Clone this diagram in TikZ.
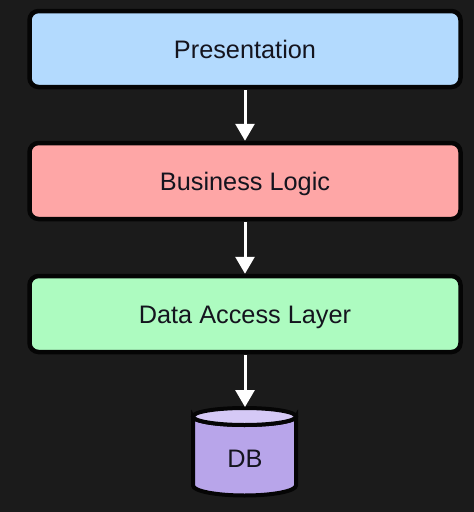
\documentclass[tikz,border=0pt]{standalone}
\usepackage{fontspec}
\setmainfont{Liberation Sans}
\usetikzlibrary{arrows.meta}
\definecolor{bgc}{HTML}{1B1B1B}
\definecolor{edgec}{HTML}{050505}
\definecolor{bluec}{HTML}{B3DAFE}
\definecolor{redc}{HTML}{FEA6A6}
\definecolor{greenc}{HTML}{ADFBC0}
\definecolor{purplec}{HTML}{B8A5EA}
\definecolor{lidc}{HTML}{D5C9F6}
\definecolor{textc}{HTML}{14141E}
\begin{document}
\begin{tikzpicture}[x=1pt,y=-1pt,
  labeltext/.style={text=textc,font=\fontsize{25.3}{28}\selectfont,text height=18pt,text depth=0pt},
  layer/.style={labeltext,draw=edgec,line width=4.5pt,rounded corners=9pt,minimum width=431pt,minimum height=76pt,inner sep=0pt},
  flow/.style={draw=white,line width=3pt,-{Triangle[length=17pt,width=19pt]}},
  rimline/.style={draw=edgec,line width=4pt}]
\useasboundingbox (0,0) rectangle (474,512);
\fill[bgc] (0,0) rectangle (474,512);
\node[layer,fill=bluec] (pres) at (245,49) {Presentation};
\node[layer,fill=redc] (biz) at (245,181) {Business Logic};
\node[layer,fill=greenc] (dal) at (245,314) {Data Access Layer};
% database cylinder
\coordinate (dbtop) at (245,407);
\path[fill=purplec,rimline] (193,416.5) -- (193,485.5) arc[start angle=180,end angle=0,x radius=51.5,y radius=10] -- (296,416.5) arc[start angle=0,end angle=180,x radius=51.5,y radius=8.5] -- cycle;
\path[fill=lidc,rimline] (244.5,416.5) ellipse[x radius=51.5,y radius=8.5];
\node[labeltext,inner sep=0pt] (db) at (245,458) {DB};
\draw[flow] ([yshift=-1pt]pres.south) -- (biz.north);
\draw[flow] ([yshift=-1pt]biz.south) -- (dal.north);
\draw[flow] ([yshift=-1pt]dal.south) -- (dbtop);
\end{tikzpicture}
\end{document}
